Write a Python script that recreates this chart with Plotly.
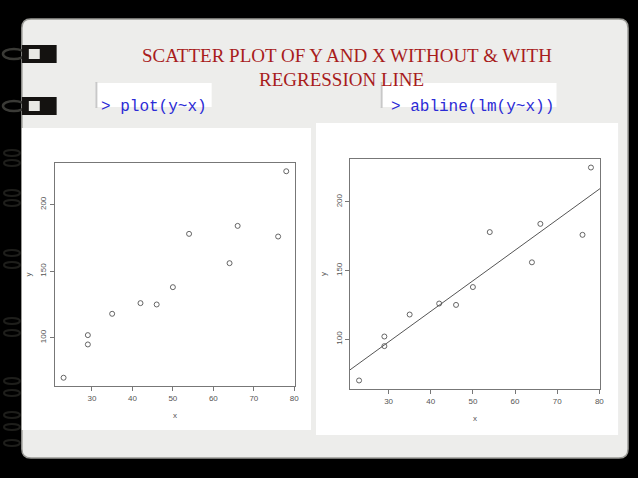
import numpy as np
import plotly.graph_objects as go
from plotly.subplots import make_subplots

W, H = 638, 478

# data
x_vals = [23, 29, 29, 35, 42, 46, 50, 54, 64, 66, 76, 78]
y_vals = [70, 102, 95, 118, 126, 125, 138, 178, 156, 184, 176, 225]
x_ticks = [30, 40, 50, 60, 70, 80]
y_ticks = [100, 150, 200]

title_lines = ["SCATTER PLOT OF Y AND X WITHOUT &amp; WITH", "REGRESSION LINE"]
code_left = "&gt; plot(y~x)"
code_right = "&gt; abline(lm(y~x))"


def px_x(v):
    return v / W


def px_y(v):
    return 1 - v / H


# R style axis ranges (data range padded by 4%)
def r_range(vals):
    lo, hi = min(vals), max(vals)
    pad = (hi - lo) * 0.04
    return [lo - pad, hi + pad]


xr = r_range(x_vals)
yr = r_range(y_vals)

slope, intercept = np.polyfit(x_vals, y_vals, 1)
line_x = [xr[0], xr[1]]
line_y = [intercept + slope * v for v in line_x]

fig = make_subplots(rows=1, cols=2)

pt_style = dict(symbol="circle-open", size=5, color="#555555", line=dict(width=0.9))
for col in (1, 2):
    fig.add_trace(
        go.Scatter(x=x_vals, y=y_vals, mode="markers", marker=pt_style, showlegend=False),
        row=1, col=col,
    )
fig.add_trace(
    go.Scatter(x=line_x, y=line_y, mode="lines", line=dict(color="#555555", width=1),
               showlegend=False, cliponaxis=True),
    row=1, col=2,
)

lab_font = dict(family="Liberation Sans", size=8, color="#555555")
axis_common = dict(
    showgrid=False, zeroline=False, showline=True, mirror=True,
    linecolor="#777777", linewidth=1, ticks="outside", ticklen=4,
    tickcolor="#777777", tickfont=lab_font,
)

# plot boxes in pixels: (left, right, top, bottom)
boxes = [(55, 297, 163, 386), (352, 604, 159, 389)]
for i, (l, r, t, b) in enumerate(boxes):
    xa = "xaxis" if i == 0 else "xaxis2"
    ya = "yaxis" if i == 0 else "yaxis2"
    fig.layout[xa].update(domain=[px_x(l), px_x(r)], range=xr, tickvals=x_ticks,
                          title=dict(text="x", standoff=10, font=lab_font), **axis_common)
    fig.layout[ya].update(domain=[px_y(b), px_y(t)], range=yr, tickvals=y_ticks,
                          tickangle=-90, title=dict(text="y", standoff=6, font=lab_font),
                          **axis_common)

shapes = []
# slide paper with rounded corners
pl, pr, pt, pb, rad = 22, 632, 19, 458, 9
paper_path = (
    f"M {px_x(pl + rad)} {px_y(pt)} L {px_x(pr - rad)} {px_y(pt)} "
    f"Q {px_x(pr)} {px_y(pt)} {px_x(pr)} {px_y(pt + rad)} "
    f"L {px_x(pr)} {px_y(pb - rad)} Q {px_x(pr)} {px_y(pb)} {px_x(pr - rad)} {px_y(pb)} "
    f"L {px_x(pl + rad)} {px_y(pb)} Q {px_x(pl)} {px_y(pb)} {px_x(pl)} {px_y(pb - rad)} "
    f"L {px_x(pl)} {px_y(pt + rad)} Q {px_x(pl)} {px_y(pt)} {px_x(pl + rad)} {px_y(pt)} Z"
)
shapes.append(dict(type="path", path=paper_path, xref="paper", yref="paper",
                   fillcolor="#ededeb", line=dict(color="#9a9a96", width=1.5), layer="below"))

# white panels behind each R plot
for (l, r, t, b) in [(22, 313, 128, 430), (318, 622, 123, 435)]:
    shapes.append(dict(type="rect", xref="paper", yref="paper",
                       x0=px_x(l), x1=px_x(r), y0=px_y(b), y1=px_y(t),
                       fillcolor="white", line=dict(width=0), layer="below"))

# code snippet boxes
for (l, r) in [(96, 213), (383, 560)]:
    shapes.append(dict(type="rect", xref="paper", yref="paper",
                       x0=px_x(l), x1=px_x(r), y0=px_y(107), y1=px_y(83),
                       fillcolor="white", line=dict(width=0), layer="below"))
    shapes.append(dict(type="line", xref="paper", yref="paper",
                       x0=px_x(l + 1), x1=px_x(l + 1), y0=px_y(108), y1=px_y(82),
                       line=dict(color="#c8c8c8", width=2), layer="below"))

# binder clips
for cy in (45, 97):
    shapes.append(dict(type="circle", xref="paper", yref="paper",
                       x0=px_x(3), x1=px_x(25), y0=px_y(cy + 14), y1=px_y(cy + 4),
                       fillcolor="rgba(0,0,0,0)", line=dict(color="#3a3a36", width=2.5)))
    shapes.append(dict(type="rect", xref="paper", yref="paper",
                       x0=px_x(22), x1=px_x(57), y0=px_y(cy + 18), y1=px_y(cy),
                       fillcolor="#141210", line=dict(width=0)))
    shapes.append(dict(type="rect", xref="paper", yref="paper",
                       x0=px_x(29), x1=px_x(40), y0=px_y(cy + 14), y1=px_y(cy + 4),
                       fillcolor="#e8e8e4", line=dict(width=0)))

# faint spiral rings down the left edge
for cy in (150, 160, 190, 200, 250, 262, 318, 330, 378, 390, 412, 424, 440):
    shapes.append(dict(type="circle", xref="paper", yref="paper",
                       x0=px_x(4), x1=px_x(20), y0=px_y(cy + 6), y1=px_y(cy),
                       fillcolor="rgba(0,0,0,0)", line=dict(color="#1e1e1b", width=2)))

annotations = [
    dict(text=title_lines[0], x=px_x(349), y=px_y(43), xref="paper", yref="paper",
         showarrow=False, font=dict(family="Liberation Serif", size=19, color="#a81c1c")),
    dict(text=title_lines[1], x=px_x(344), y=px_y(67), xref="paper", yref="paper",
         showarrow=False, font=dict(family="Liberation Serif", size=19, color="#a81c1c")),
    dict(text=code_left, x=px_x(100), y=px_y(96), xref="paper", yref="paper",
         xanchor="left", showarrow=False,
         font=dict(family="Liberation Mono", size=16, color="#2b2bd6")),
    dict(text=code_right, x=px_x(391), y=px_y(96), xref="paper", yref="paper",
         xanchor="left", showarrow=False,
         font=dict(family="Liberation Mono", size=16, color="#2b2bd6")),
]

fig.update_layout(
    width=W, height=H,
    margin=dict(l=0, r=0, t=0, b=0),
    paper_bgcolor="black", plot_bgcolor="white",
    shapes=shapes, annotations=annotations,
    showlegend=False,
)

fig.write_html("out.html", config={"displayModeBar": False},
               post_script="document.body.style.margin='0';")
